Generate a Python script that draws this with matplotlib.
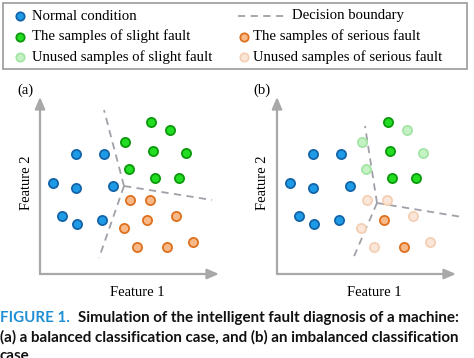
import numpy as np
import matplotlib
matplotlib.use("Agg")
from matplotlib import pyplot as plt
from matplotlib.patches import Rectangle

# feature space coordinates of the simulated samples
normal_x = [1.8, 3.2, 0.65, 1.8, 3.65, 1.1, 1.85, 3.1]
normal_y = [6.0, 6.0, 4.55, 4.3, 4.4, 2.9, 2.5, 2.7]
slight_x = [5.55, 6.5, 4.25, 5.65, 7.3, 4.45, 5.75, 6.95]
slight_y = [7.6, 7.2, 6.6, 6.15, 6.05, 5.25, 4.8, 4.8]
serious_x = [4.5, 5.5, 5.35, 6.8, 4.2, 7.65, 4.85, 6.35]
serious_y = [3.7, 3.7, 2.7, 2.9, 2.3, 1.6, 1.35, 1.35]

# which samples are kept in the imbalanced case (b)
slight_used_b = [1, 0, 0, 1, 0, 0, 1, 1]
serious_used_b = [0, 0, 1, 0, 0, 0, 0, 1]

# decision boundaries: centre, then three end points
boundary_a = [(4.2, 4.4), (3.2, 8.2), (2.95, 0.8), (8.6, 3.7)]
boundary_b = [(5.0, 3.55), (4.4, 7.4), (3.75, 0.65), (9.25, 2.85)]

legend_labels = ['Normal condition', 'The samples of slight fault',
                 'Unused samples of slight fault', 'Decision boundary',
                 'The samples of serious fault', 'Unused samples of serious fault']

BLUE = dict(mfc='#1e9be6', mec='#1464a8')
GREEN = dict(mfc='#22dd22', mec='#0c9a0c')
ORANGE = dict(mfc='#f7b98a', mec='#e0701c')
LGREEN = dict(mfc='#c4f2c4', mec='#a4e4a4')
LORANGE = dict(mfc='#fbe7da', mec='#f4cfb4')
DASH = '#a0a0a8'
SERIF = 'Liberation Serif'
MS, MEW = 6.6, 1.3

W, H = 474, 358
fig = plt.figure(figsize=(W / 100, H / 100), dpi=100)
UNIT = 20.0  # pixels per feature unit


def marker(ax, x, y, style):
    ax.plot(x, y, 'o', ms=MS, mew=MEW, ls='none', **style, zorder=3)


def panel(ox, oy, label, boundary, slight_used, serious_used):
    ax = fig.add_axes([ox / W, (H - oy) / H, 9.6 * UNIT / W, 9.2 * UNIT / H])
    ax.set_xlim(0, 9.6)
    ax.set_ylim(0, 9.2)
    ax.axis('off')
    arr = dict(arrowstyle='-|>,head_length=0.7,head_width=0.3', color='#a8a8a8',
               lw=1.6, shrinkA=0, shrinkB=0)
    ax.annotate('', xy=(0, 8.85), xytext=(0, 0), arrowprops=arr)
    ax.annotate('', xy=(8.95, 0), xytext=(0, 0), arrowprops=arr)
    c = boundary[0]
    for p in boundary[1:]:
        ax.plot([c[0], p[0]], [c[1], p[1]], ls=(0, (4, 3)), color=DASH, lw=1.3)
    marker(ax, normal_x, normal_y, BLUE)
    for x, y, u in zip(slight_x, slight_y, slight_used):
        marker(ax, [x], [y], GREEN if u else LGREEN)
    for x, y, u in zip(serious_x, serious_y, serious_used):
        marker(ax, [x], [y], ORANGE if u else LORANGE)
    ax.text(-0.75, 9.2, label, fontsize=10.5, family=SERIF, ha='center', va='center')
    ax.text(4.85, -0.95, 'Feature 1', fontsize=10.5, family=SERIF, ha='center', va='center')
    ax.text(-0.7, 4.55, 'Feature 2', fontsize=10.5, family=SERIF, ha='center', va='center',
            rotation=90)
    return ax


panel(40, 274, '(a)', boundary_a, [1] * 8, [1] * 8)
panel(277, 274, '(b)', boundary_b, slight_used_b, serious_used_b)

# legend box drawn in pixel space on top of the figure
lax = fig.add_axes([0, 0, 1, 1], facecolor='none')
lax.set_xlim(0, W)
lax.set_ylim(H, 0)
lax.axis('off')
lax.add_patch(Rectangle((3, 3), 464, 66, fill=False, ec='#9a9a9a', lw=1.2))
rows = [16, 36.5, 57]
styles = [BLUE, GREEN, LGREEN, None, ORANGE, LORANGE]
for i, (lab, st) in enumerate(zip(legend_labels, styles)):
    y = rows[i % 3]
    if i < 3:
        mx, tx = 20, 32.5
    else:
        mx, tx = 244, 253.5
    if st is None:
        lax.plot([238, 287], [y, y], ls=(0, (4, 3)), color=DASH, lw=1.3)
        tx = 292
    else:
        lax.plot([mx], [y], 'o', ms=6.0, mew=MEW, **st)
    lax.text(tx, y, lab, family=SERIF, fontsize=10.6, va='center', ha='left')

cap = dict(family='Lato', weight='bold', size=10.9, va='center')
t1 = fig.text(0.0, 1 - 318 / H, 'FIGURE 1.', color='#1e8fd4', **cap)
fig.canvas.draw()
bb = t1.get_window_extent()
fig.text(bb.x1 / W + 8 / W, 1 - 318 / H,
         'Simulation of the intelligent fault diagnosis of a machine:', color='#111111', **cap)
fig.text(0.0, 1 - 337 / H,
         '(a) a balanced classification case, and (b) an imbalanced classification',
         color='#111111', **cap)
fig.text(0.0, 1 - 356 / H, 'case', color='#111111', **cap)

fig.savefig('out.png', dpi=100)
